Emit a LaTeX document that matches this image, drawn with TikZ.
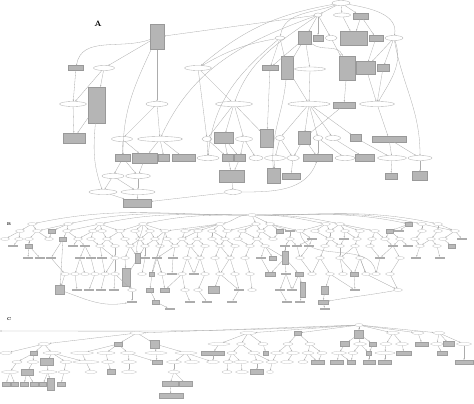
\documentclass[tikz,border=0pt]{standalone}
\usetikzlibrary{shapes.geometric,arrows.meta}
\begin{document}
\begin{tikzpicture}[x=1pt,y=-1pt,
 ed/.style={draw=gray!65, line width=0.3pt, -{Stealth[length=1.6pt,width=1.3pt]}},
 ae/.style 2 args={ellipse, draw=gray!60, fill=white, line width=0.35pt, inner sep=0pt, minimum width=#1pt, minimum height=#2pt},
 ag/.style 2 args={rectangle, draw=gray!80, fill=gray!58, line width=0.35pt, inner sep=0pt, minimum width=#1pt, minimum height=#2pt},
 e/.style={ellipse, draw=gray!55, fill=white, line width=0.25pt, inner sep=0pt, minimum width=9pt, minimum height=3pt},
 g/.style={rectangle, draw=gray!75, fill=gray!55, line width=0.25pt, inner sep=0pt, minimum width=7pt, minimum height=4pt},
 d/.style={rectangle, fill=gray!65, inner sep=0pt, minimum width=10pt, minimum height=2.2pt},
 lab/.style={font=\bfseries, inner sep=0pt}
]
\useasboundingbox (0,0) rectangle (474,404);
\fill[white] (0,0) rectangle (474,404);

% ================= Panel A =================
\node[lab,font=\bfseries\fontsize{8}{8}\selectfont] (labA) at (98,24) {A};
\node[ae={18}{5}] (a0) at (341,3) {};
\node[ae={8}{4}] (a1) at (318,15) {};
\node[ae={17}{4}] (a2) at (342,15) {};
\node[ag={15}{6}] (a3) at (361,16) {};
\node[ae={10}{4}] (a4) at (280,38) {};
\node[ag={13}{13}] (a5) at (305,38) {};
\node[ag={10}{6}] (a6) at (318,38) {};
\node[ae={12}{5}] (a7) at (331,38) {};
\node[ag={27}{14}] (a8) at (354,38) {};
\node[ag={14}{6}] (a9) at (376,38) {};
\node[ae={18}{5}] (a10) at (394,38) {};
\node[ag={14}{25}] (a11) at (157,37) {};
\node[ag={15}{5}] (a12) at (76,68) {};
\node[ae={21}{5}] (a13) at (104,68) {};
\node[ag={17}{36}] (a14) at (97,105) {};
\node[ae={27}{5}] (a15) at (198,68) {};
\node[ag={16}{5}] (a16) at (270,68) {};
\node[ag={12}{23}] (a17) at (287,68) {};
\node[ae={31}{4}] (a18) at (310,69) {};
\node[ag={16}{24}] (a19) at (347,68) {};
\node[ag={19}{13}] (a20) at (366,68) {};
\node[ag={12}{7}] (a21) at (383,68) {};
\node[ae={27}{5}] (a22) at (73,104) {};
\node[ae={22}{5}] (a23) at (157,104) {};
\node[ae={37}{5}] (a24) at (234,104) {};
\node[ae={42}{5}] (a25) at (309,104) {};
\node[ag={22}{6}] (a26) at (344,105) {};
\node[ae={35}{5}] (a27) at (377,104) {};
\node[ag={22}{10}] (a28) at (74,138) {};
\node[ae={21}{5}] (a29) at (122,139) {};
\node[ae={45}{5}] (a30) at (160,139) {};
\node[ae={10}{5}] (a31) at (207,139) {};
\node[ag={19}{11}] (a32) at (224,138) {};
\node[ae={17}{5}] (a33) at (244,139) {};
\node[ag={13}{18}] (a34) at (267,138) {};
\node[ae={9}{5}] (a35) at (280,138) {};
\node[ag={12}{13}] (a36) at (304,138) {};
\node[ae={10}{5}] (a37) at (318,138) {};
\node[ae={15}{5}] (a38) at (333,138) {};
\node[ag={11}{7}] (a39) at (356,138) {};
\node[ag={34}{6}] (a40) at (389,139) {};
\node[ag={15}{7}] (a41) at (123,158) {};
\node[ag={25}{10}] (a42) at (145,158) {};
\node[ag={11}{7}] (a43) at (164,158) {};
\node[ag={23}{7}] (a44) at (184,158) {};
\node[ae={22}{5}] (a45) at (208,158) {};
\node[ag={11}{7}] (a46) at (228,158) {};
\node[ag={11}{7}] (a47) at (240,158) {};
\node[ae={14}{5}] (a48) at (256,158) {};
\node[ae={21}{5}] (a49) at (275,158) {};
\node[ae={13}{5}] (a50) at (293,158) {};
\node[ag={29}{7}] (a51) at (318,158) {};
\node[ae={20}{5}] (a52) at (345,158) {};
\node[ag={19}{7}] (a53) at (365,158) {};
\node[ae={29}{5}] (a54) at (392,158) {};
\node[ae={24}{5}] (a55) at (420,158) {};
\node[ag={25}{12}] (a56) at (232,176) {};
\node[ae={22}{5}] (a57) at (113,176) {};
\node[ae={25}{5}] (a58) at (138,176) {};
\node[ag={13}{15}] (a59) at (274,176) {};
\node[ag={18}{6}] (a60) at (291,176) {};
\node[ag={12}{6}] (a61) at (391,176) {};
\node[ag={15}{9}] (a62) at (420,176) {};
\node[ae={28}{5}] (a63) at (103,192) {};
\node[ae={34}{5}] (a64) at (138,192) {};
\node[ae={17}{5}] (a65) at (233,192) {};
\node[ag={28}{8}] (a66) at (137,203) {};

\draw[ed] (a0) -- (a1);
\draw[ed] (a0) -- (a2);
\draw[ed] (a0) -- (a3);
\draw[ed] (a0) to[out=-10,in=80] (a10);
\draw[ed] (a0) to[out=200,in=80] (a4);
\draw[ed] (a0) to[out=190,in=40] (a15);
\draw[ed] (a1) -- (a11);
\draw[ed] (a1) -- (a5);
\draw[ed] (a1) -- (a6);
\draw[ed] (a1) -- (a7);
\draw[ed] (a1) to[out=215,in=70] (a24);
\draw[ed] (a1) to[out=200,in=65] (a30);
\draw[ed] (a2) -- (a8);
\draw[ed] (a3) -- (a8);
\draw[ed] (a3) -- (a9);
\draw[ed] (a10) -- (a20);
\draw[ed] (a10) -- (a21);
\draw[ed] (a10) to[out=-70,in=60] (a27);
\draw[ed] (a10) to[out=-80,in=90] (a55);
\draw[ed] (a9) -- (a20);
\draw[ed] (a4) -- (a16);
\draw[ed] (a4) -- (a17);
\draw[ed] (a4) to[out=-170,in=30] (a15);
\draw[ed] (a4) to[out=-140,in=85] (a45);
\draw[ed] (a5) -- (a16);
\draw[ed] (a5) -- (a17);
\draw[ed] (a5) -- (a18);
\draw[ed] (a5) to[out=-40,in=110] (a19);
\draw[ed] (a7) -- (a19);
\draw[ed] (a11) to[out=200,in=80] (a12);
\draw[ed] (a11) -- (a13);
\draw[ed] (a11) -- (a23);
\draw[ed] (a11) to[out=-115,in=90] (a41);
\draw[ed] (a12) -- (a22);
\draw[ed] (a13) -- (a22);
\draw[ed] (a13) -- (a14);
\draw[ed] (a15) -- (a24);
\draw[ed] (a15) -- (a31);
\draw[ed] (a14) -- (a28);
\draw[ed] (a22) -- (a28);
\draw[ed] (a14) to[out=-95,in=110] (a63);
\draw[ed] (a23) -- (a29);
\draw[ed] (a23) -- (a30);
\draw[ed] (a24) -- (a31);
\draw[ed] (a24) -- (a32);
\draw[ed] (a24) -- (a33);
\draw[ed] (a24) -- (a34);
\draw[ed] (a16) -- (a34);
\draw[ed] (a17) to[out=-95,in=95] (a59);
\draw[ed] (a17) -- (a25);
\draw[ed] (a18) -- (a25);
\draw[ed] (a19) -- (a26);
\draw[ed] (a20) -- (a27);
\draw[ed] (a21) -- (a27);
\draw[ed] (a25) -- (a35);
\draw[ed] (a25) -- (a36);
\draw[ed] (a25) -- (a37);
\draw[ed] (a25) -- (a38);
\draw[ed] (a25) -- (a39);
\draw[ed] (a26) -- (a36);
\draw[ed] (a27) -- (a40);
\draw[ed] (a29) -- (a41);
\draw[ed] (a29) -- (a42);
\draw[ed] (a30) -- (a42);
\draw[ed] (a30) -- (a43);
\draw[ed] (a30) -- (a44);
\draw[ed] (a31) -- (a45);
\draw[ed] (a31) -- (a46);
\draw[ed] (a32) -- (a46);
\draw[ed] (a32) -- (a47);
\draw[ed] (a33) -- (a47);
\draw[ed] (a33) -- (a48);
\draw[ed] (a35) -- (a49);
\draw[ed] (a35) -- (a50);
\draw[ed] (a36) -- (a50);
\draw[ed] (a36) -- (a51);
\draw[ed] (a37) -- (a51);
\draw[ed] (a37) -- (a52);
\draw[ed] (a38) -- (a53);
\draw[ed] (a39) -- (a54);
\draw[ed] (a40) -- (a54);
\draw[ed] (a40) -- (a55);
\draw[ed] (a46) -- (a56);
\draw[ed] (a47) -- (a56);
\draw[ed] (a49) -- (a59);
\draw[ed] (a50) -- (a60);
\draw[ed] (a54) -- (a61);
\draw[ed] (a55) -- (a62);
\draw[ed] (a41) -- (a57);
\draw[ed] (a41) -- (a58);
\draw[ed] (a42) -- (a58);
\draw[ed] (a57) -- (a63);
\draw[ed] (a57) -- (a64);
\draw[ed] (a58) -- (a64);
\draw[ed] (a63) -- (a66);
\draw[ed] (a64) -- (a66);
\draw[ed] (a56) -- (a65);
\draw[ed] (a65) -- (a66);
\draw[ed] (a65) to[out=0,in=-110] (a51);

% ================= Panel B =================
\node[lab,font=\bfseries\fontsize{4}{4}\selectfont] (labB) at (9,224) {B};
\node[e] (b0) at (252,215) {};
\foreach \x in {32,68,100,143,220,256,270,326,340,422,438} {\node[e] (b1-\x) at (\x,224) {};}
\node[g] (b1-409) at (409,224) {};
\foreach \x in {32,68,100,143,220} {\draw[ed] (b0) to[out=180,in=12] (b1-\x);}
\foreach \x in {256,270} {\draw[ed] (b0) -- (b1-\x);}
\foreach \x in {326,340,409,422,438} {\draw[ed] (b0) to[out=0,in=168] (b1-\x);}

\foreach \x/\p in {20/b1-32,37/b1-32,67/b1-68,93/b1-100,102/b1-100,120/b1-100,135/b1-143,150/b1-143,165/b1-143,185/b1-220,198/b1-220,212/b1-220,227/b1-220,242/b1-256,261/b1-256,300/b1-270,315/b1-326,330/b1-326,345/b1-340,360/b1-340,375/b1-340,422/b1-422,438/b1-438,455/b1-438}
 {\node[e] (b2-\x) at (\x,231) {}; \draw[ed] (\p) -- (b2-\x);}
\foreach \x/\p in {52/b1-68,280/b1-270,390/b1-409}
 {\node[g] (b2-\x) at (\x,231) {}; \draw[ed] (\p) -- (b2-\x);}
\foreach \x/\p in {290/b1-270,399/b1-409}
 {\node[d] (b2-\x) at (\x,231) {}; \draw[ed] (\p) -- (b2-\x);}

\foreach \x/\p in {5/b2-20,19/b2-20,29/b2-37,49/b2-52,78/b2-67,91/b2-93,107/b2-102,125/b2-120,140/b2-135,155/b2-150,167/b2-165,182/b2-185,197/b2-198,212/b2-212,225/b2-227,238/b2-242,257/b2-261,273/b2-280,290/b2-290,330/b2-330,357/b2-345,372/b2-375,385/b2-390,400/b2-390,415/b2-422,431/b2-438,443/b2-455}
 {\node[e] (b3-\x) at (\x,239) {}; \draw[ed] (\p) -- (b3-\x);}
\foreach \x/\p in {63/b2-67}
 {\node[g] (b3-\x) at (\x,239) {}; \draw[ed] (\p) -- (b3-\x);}
\foreach \x/\p in {312/b2-300,344/b2-345,462/b2-455}
 {\node[d] (b3-\x) at (\x,239) {}; \draw[ed] (\p) -- (b3-\x);}

\foreach \x/\p in {13/b3-19,73/b3-78,85/b3-78,285/b3-290,297/b3-290,309/b3-312,393/b3-400,408/b3-400}
 {\node[d] (b4-\x) at (\x,246) {}; \draw[ed] (\p) -- (b4-\x);}
\foreach \x/\p in {29/b3-29,452/b3-443}
 {\node[g] (b4-\x) at (\x,246) {}; \draw[ed] (\p) -- (b4-\x);}
\foreach \x/\p in {100/b3-91,115/b3-107,130/b3-125,145/b3-140,160/b3-155,175/b3-167,190/b3-182,205/b3-197,220/b3-212,235/b3-225,250/b3-238,265/b3-257,325/b3-330,340/b3-344,355/b3-357,370/b3-372,420/b3-415,437/b3-431}
 {\node[e] (b4-\x) at (\x,246) {}; \draw[ed] (\p) -- (b4-\x);}

\foreach \x/\p in {28/b4-29,40/b4-29,51/b3-63,80/b4-85,91/b4-85,102/b4-100,145/b4-145,157/b4-160,173/b4-175,261/b4-265,380/b4-370,416/b4-420,440/b4-437}
 {\node[d] (b5-\x) at (\x,258) {}; \draw[ed] (\p) -- (b5-\x);}
\node[g,minimum width=5pt,minimum height=10pt] (b5-138) at (138,258) {};
\draw[ed] (b4-130) -- (b5-138);
\node[g,minimum width=6pt,minimum height=13pt] (b5-285) at (285,258) {};
\draw[ed] (b4-285) -- (b5-285);
\node[g] (b5-273) at (273,258) {};
\draw[ed] (b4-265) -- (b5-273);
\foreach \x/\p in {115/b4-115,125/b4-130,187/b4-190,200/b4-205,215/b4-220,230/b4-235,245/b4-250,300/b4-297,320/b4-325,340/b4-340,360/b4-355,400/b4-393}
 {\node[e] (b5-\x) at (\x,258) {}; \draw[ed] (\p) -- (b5-\x);}

\foreach \x/\p in {65/b5-51,75/b5-80,85/b5-80,95/b5-91,105/b5-102,115/b5-115,142/b5-145,162/b5-157,182/b5-187,205/b5-200,220/b5-215,235/b5-230,250/b5-245,312/b5-300,330/b5-320,343/b5-340,366/b5-360,376/b5-380,390/b5-400}
 {\node[e] (b6-\x) at (\x,274) {}; \draw[ed] (\p) -- (b6-\x);}
\node[g,minimum width=8pt,minimum height=18pt] (b6-126) at (126,277) {};
\draw[ed] (b5-125) -- (b6-126);
\foreach \x/\p/\w in {152/b5-157/5,270/b5-261/10,299/b5-285/8,354/b5-360/8}
 {\node[g,minimum width=\w pt] (b6-\x) at (\x,274) {}; \draw[ed] (\p) -- (b6-\x);}
\foreach \x/\p in {172/b5-173,194/b5-187,286/b5-285}
 {\node[d] (b6-\x) at (\x,274) {}; \draw[ed] (\p) -- (b6-\x);}

\foreach \x/\p/\w/\h in {60/b6-65/9/9,303/b6-299/5/15,325/b6-330/7/8,150/b6-152/7/4,165/b6-162/9/4,214/b6-220/11/7}
 {\node[g,minimum width=\w pt,minimum height=\h pt] (b7-\x) at (\x,290) {}; \draw[ed] (\p) -- (b7-\x);}
\foreach \x/\p in {77/b6-75,89/b6-95,101/b6-105,114/b6-115,239/b6-235,280/b6-286,292/b6-286,355/b6-354}
 {\node[d] (b7-\x) at (\x,290) {}; \draw[ed] (\p) -- (b7-\x);}
\foreach \x/\p in {132/b6-126,185/b6-182,198/b6-205,252/b6-250,398/b6-390}
 {\node[e] (b7-\x) at (\x,290) {}; \draw[ed] (\p) -- (b7-\x);}

\foreach \x/\p in {132/b7-132,190/b7-185,207/b7-198,232/b7-239,287/b7-280,300/b7-303}
 {\node[d] (b8-\x) at (\x,302) {}; \draw[ed] (\p) -- (b8-\x);}
\foreach \x/\p/\w in {156/b7-150/7,323/b7-325/10}
 {\node[g,minimum width=\w pt] (b8-\x) at (\x,302) {}; \draw[ed] (\p) -- (b8-\x);}
\foreach \x/\p in {170/b8-156,325/b8-323}
 {\node[d] (b9-\x) at (\x,309) {}; \draw[ed] (\p) -- (b9-\x);}

\foreach \u/\v in {b1-68/b2-37,b1-100/b2-67,b1-143/b2-120,b1-220/b2-165,b1-256/b2-227,b1-270/b2-261,b1-326/b2-300,b1-340/b2-330,b1-422/b2-455,
 b2-37/b3-49,b2-93/b3-78,b2-120/b3-107,b2-150/b3-140,b2-165/b3-155,b2-198/b3-182,b2-212/b3-225,b2-242/b3-257,b2-261/b3-273,b2-315/b3-330,b2-360/b3-357,b2-375/b3-385,
 b3-107/b4-100,b3-140/b4-130,b3-155/b4-145,b3-182/b4-175,b3-197/b4-190,b3-225/b4-220,b3-257/b4-250,b3-312/b4-297,b3-330/b4-340,b3-385/b4-393,b3-431/b4-420,
 b4-100/b5-115,b4-145/b5-138,b4-175/b5-157,b4-190/b5-200,b4-220/b5-230,b4-265/b5-285,b4-309/b5-300,b4-355/b5-340,b4-393/b5-380,
 b5-115/b6-105,b5-138/b6-126,b5-157/b6-162,b5-200/b6-194,b5-230/b6-220,b5-285/b6-270,b5-320/b6-312,b5-360/b6-366,b5-340/b6-354,
 b6-115/b7-132,b6-182/b7-165,b6-220/b7-239,b6-299/b7-292,b6-330/b7-355,b6-366/b7-398}
 {\draw[ed] (\u) -- (\v);}
\draw[ed] (b3-63) -- (b7-60);
\draw[ed] (b7-60) to[out=-20,in=190] (b8-132);
\draw[ed] (b7-398) to[out=-170,in=10] (b8-323);
\draw[ed] (b2-300) to[out=-80,in=100] (b6-376);
\draw[ed] (b1-143) to[out=-95,in=100] (b5-138);
\draw[ed] (b2-165) to[out=-100,in=80] (b6-152);

% ================= Panel C =================
\node[lab,font=\bfseries\fontsize{4}{4}\selectfont] (labC) at (9,319) {C};
\node[e,minimum width=8pt] (c0) at (359,325) {};
\coordinate (cL) at (0,331);
\draw[ed] (c0) to[out=183,in=0] (cL);
\foreach \x/\w in {137/14,248/16,393/13,418/12,439/12}
 {\node[e,minimum width=\w pt] (c1-\x) at (\x,333) {}; \draw[ed] (c0) -- (c1-\x);}
\node[g,minimum width=7pt] (c1-298) at (298,333) {};
\draw[ed] (c0) -- (c1-298);
\node[g,minimum width=9pt,minimum height=8pt] (c1-359) at (359,334) {};
\draw[ed] (c0) -- (c1-359);

\foreach \x/\p/\w in {44/c1-137/12,219/c1-248/22,241/c1-248/9,263/c1-248/10,288/c1-298/10,310/c1-298/10,360/c1-359/13,386/c1-393/12,402/c1-393/13,437/c1-439/13,464/c1-439/15}
 {\node[e,minimum width=\w pt] (c2-\x) at (\x,344) {}; \draw[ed] (\p) -- (c2-\x);}
\foreach \x/\p/\w/\h in {118/c1-137/8/4,155/c1-137/9/8,345/c1-359/9/5,373/c1-359/7/4,422/c1-418/13/4,449/c1-439/11/5}
 {\node[g,minimum width=\w pt,minimum height=\h pt] (c2-\x) at (\x,344) {}; \draw[ed] (\p) -- (c2-\x);}

\foreach \x/\p/\w in {6/c2-44/12,52/c2-44/18,82/c2-118/23,106/c2-118/18,128/c2-118/15,156/c2-155/22,186/c2-155/22,232/c2-241/10,254/c2-241/12,277/c2-288/13,293/c2-288/13,308/c2-310/12,322/c2-310/10,339/c2-345/15,353/c2-360/10,385/c2-386/20}
 {\node[e,minimum width=\w pt] (c3-\x) at (\x,353) {}; \draw[ed] (\p) -- (c3-\x);}
\foreach \x/\p/\w in {34/c2-44/7,213/c2-219/23,266/c2-263/5,369/c2-373/5,404/c2-402/15,442/c2-437/10}
 {\node[g,minimum width=\w pt] (c3-\x) at (\x,353) {}; \draw[ed] (\p) -- (c3-\x);}

\foreach \x/\p/\w in {17/c3-34/10,33/c3-34/12,66/c3-52/12,86/c3-82/26,108/c3-106/13,129/c3-128/15,174/c3-186/15,192/c3-186/15,213/c3-213/13,228/c3-232/10,241/c3-232/15,257/c3-254/13,272/c3-277/12,287/c3-293/13,303/c3-308/10}
 {\node[e,minimum width=\w pt] (c4-\x) at (\x,362) {}; \draw[ed] (\p) -- (c4-\x);}
\foreach \x/\p/\w/\h in {47/c3-52/13/7,157/c3-156/10/4,318/c3-322/13/4,337/c3-339/13/4,351/c3-353/8/4,369/c3-369/12/4,385/c3-385/13/4,464/c2-464/18/4}
 {\node[g,minimum width=\w pt,minimum height=\h pt] (c4-\x) at (\x,362) {}; \draw[ed] (\p) -- (c4-\x);}

\foreach \x/\p/\w in {10/c4-17/17,48/c4-47/18,64/c4-66/12,91/c4-86/12,129/c4-129/15,174/c4-174/12,227/c4-228/10,242/c4-241/13,270/c4-272/7}
 {\node[e,minimum width=\w pt] (c5-\x) at (\x,372) {}; \draw[ed] (\p) -- (c5-\x);}
\foreach \x/\p/\w/\h in {27/c4-33/12/6,111/c4-108/8/5,257/c4-257/13/5}
 {\node[g,minimum width=\w pt,minimum height=\h pt] (c5-\x) at (\x,372) {}; \draw[ed] (\p) -- (c5-\x);}

\foreach \x/\p/\w/\h in {6/c5-10/8/4,15/c5-10/7/4,24/c5-27/8/4,34/c5-27/8/4,43/c5-48/7/4,51/c5-48/7/12,61/c5-64/8/4,170/c5-174/16/5,186/c5-174/13/5}
 {\node[g,minimum width=\w pt,minimum height=\h pt] (c6-\x) at (\x,384) {}; \draw[ed] (\p) -- (c6-\x);}
\node[g,minimum width=24pt,minimum height=5pt] (c7-171) at (171,396) {};
\draw[ed] (c6-170) -- (c7-171);

\foreach \u/\v in {c3-52/c4-86,c3-128/c4-157,c3-186/c4-213,c3-254/c4-272,c3-308/c4-318,c3-339/c4-351,c2-360/c3-369}
 {\draw[ed] (\u) -- (\v);}
\end{tikzpicture}
\end{document}
